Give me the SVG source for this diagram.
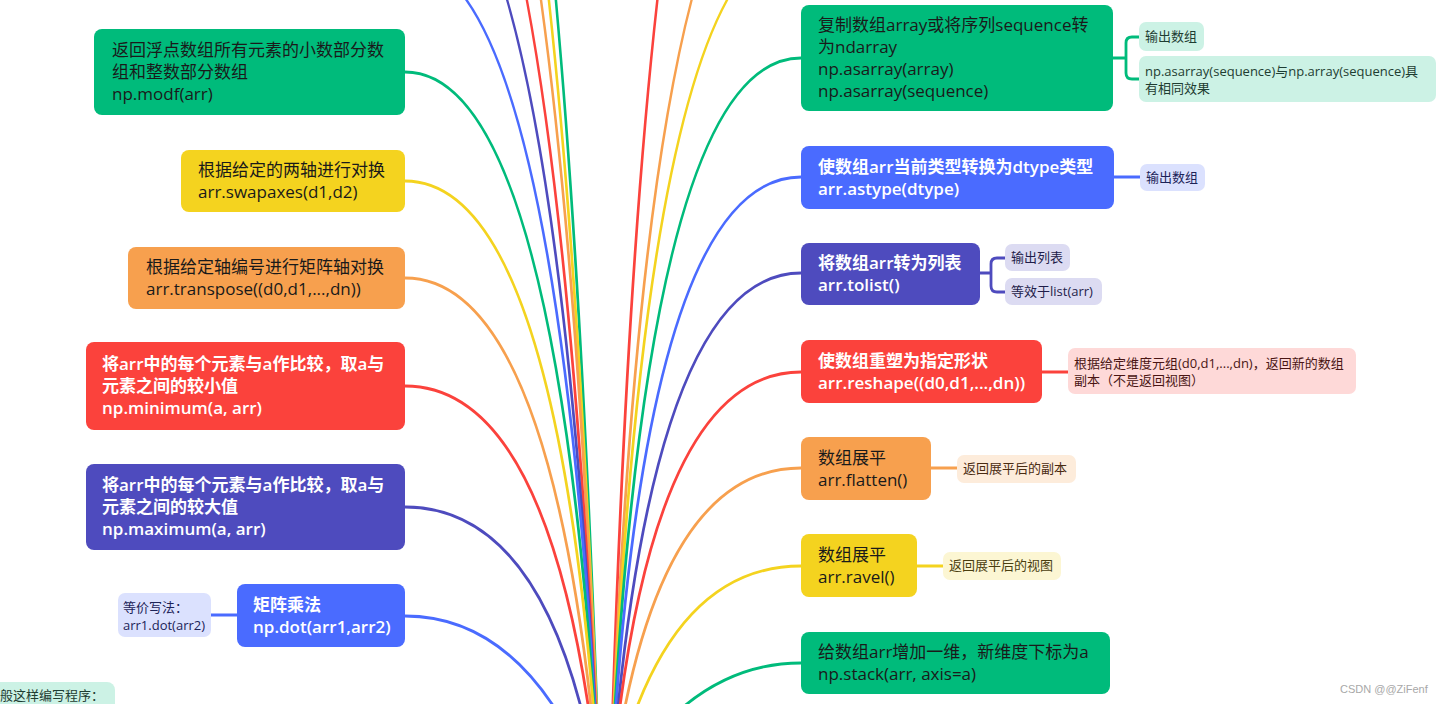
<svg xmlns="http://www.w3.org/2000/svg" width="1448" height="704" viewBox="0 0 1448 704">
<style>
.c{fill:none;stroke-width:2.8;stroke-linecap:round}
.sg{stroke:#00BB7B}.sy{stroke:#F4D31F}.so{stroke:#F7A04E}.sr{stroke:#FB423C}.si{stroke:#4E4BBE}.sb{stroke:#4A6BFF}
.t{font-family:"Open Sans","Noto Sans CJK SC",sans-serif;font-size:17px}
.d{fill:#1a1a1a}
.w{fill:#ffffff;font-weight:600}
.s{font-family:"Open Sans","Noto Sans CJK SC",sans-serif;font-size:13px}
</style>
<rect width="1448" height="704" fill="#ffffff"/>
<g id="connectors">
<path class="c sg" d="M405 -590 Q555 -590 600 800"/>
<path class="c sy" d="M405 -480 Q554 -480 600 800"/>
<path class="c so" d="M405 -370 Q556 -370 600 800"/>
<path class="c sr" d="M405 -260 Q553 -260 600 800"/>
<path class="c si" d="M405 -150 Q554 -150 600 800"/>
<path class="c sb" d="M405 -40 Q558 -40 600 800"/>
<path class="c sg" d="M405 72 Q560 72 600 800"/>
<path class="c sy" d="M405 181 Q562 181 600 800"/>
<path class="c so" d="M405 278 Q557 278 600 800"/>
<path class="c sr" d="M405 386 Q558 386 600 800"/>
<path class="c si" d="M405 507 Q554 507 600 800"/>
<path class="c sb" d="M405 616 Q531 616 600 800"/>
<path class="c sr" d="M801 -450 Q645 -450 610 800"/>
<path class="c so" d="M801 -170 Q645 -170 610 800"/>
<path class="c sy" d="M801 -60 Q645 -60 610 800"/>
<path class="c sg" d="M801 58 Q644 58 610 800"/>
<path class="c sb" d="M801 177 Q643 177 610 800"/>
<path class="c si" d="M801 273 Q648 273 610 800"/>
<path class="c sr" d="M801 372 Q646 372 610 800"/>
<path class="c so" d="M801 468 Q651 468 610 800"/>
<path class="c sy" d="M801 566 Q660 566 610 800"/>
<path class="c sg" d="M801 663 Q686 663 610 800"/>
<path class="c sb" d="M211 615 H237"/>
<path class="c sg" d="M1113 58 H1126 M1139 37 H1132 Q1126 37 1126 43 V73 Q1126 79 1132 79 H1139"/>
<path class="c sb" d="M1114 177 H1140"/>
<path class="c si" d="M980 273 H991 M1005 258 H997 Q991 258 991 264 V286 Q991 292 997 292 H1005"/>
<path class="c sr" d="M1042 372 H1068"/>
<path class="c so" d="M931 468 H957"/>
<path class="c sy" d="M917 566 H943"/>
</g>
<g id="node-modf">
<rect x="94" y="29" width="311" height="86" rx="8" fill="#00BB7B"/>
<text class="t d" x="112" y="56">返回浮点数组所有元素的小数部分数</text>
<text class="t d" x="112" y="78">组和整数部分数组</text>
<text class="t d" x="112" y="100">np.modf(arr)</text>
</g>
<g id="node-swapaxes">
<rect x="181" y="150" width="224" height="62" rx="8" fill="#F4D31F"/>
<text class="t d" x="198" y="176">根据给定的两轴进行对换</text>
<text class="t d" x="198" y="198">arr.swapaxes(d1,d2)</text>
</g>
<g id="node-transpose">
<rect x="128" y="247" width="277" height="62" rx="8" fill="#F7A04E"/>
<text class="t d" x="146" y="273">根据给定轴编号进行矩阵轴对换</text>
<text class="t d" x="146" y="295">arr.transpose((d0,d1,...,dn))</text>
</g>
<g id="node-minimum">
<rect x="86" y="342" width="319" height="88" rx="8" fill="#FB423C"/>
<text class="t w" x="102" y="370">将arr中的每个元素与a作比较，取a与</text>
<text class="t w" x="102" y="392">元素之间的较小值</text>
<text class="t w" x="102" y="414">np.minimum(a, arr)</text>
</g>
<g id="node-maximum">
<rect x="86" y="464" width="319" height="86" rx="8" fill="#4E4BBE"/>
<text class="t w" x="102" y="491">将arr中的每个元素与a作比较，取a与</text>
<text class="t w" x="102" y="513">元素之间的较大值</text>
<text class="t w" x="102" y="535">np.maximum(a, arr)</text>
</g>
<g id="node-dot">
<rect x="237" y="584" width="168" height="63" rx="8" fill="#4A6BFF"/>
<text class="t w" x="253" y="611">矩阵乘法</text>
<text class="t w" x="253" y="633">np.dot(arr1,arr2)</text>
</g>
<g id="node-dot-alt">
<rect x="118" y="593" width="93" height="44" rx="7" fill="#DBE1FE"/>
<text class="s" x="123" y="612" fill="#1c2358">等价写法：</text>
<text class="s" x="123" y="630" fill="#1c2358">arr1.dot(arr2)</text>
</g>
<g id="node-partial">
<rect x="-12" y="682" width="127" height="40" rx="8" fill="#CCF2E5"/>
<text class="s" x="0" y="700" fill="#1e3d32">般这样编写程序：</text>
</g>
<g id="node-asarray">
<rect x="801" y="5" width="312" height="106" rx="8" fill="#00BB7B"/>
<text class="t d" x="818" y="31">复制数组array或将序列sequence转</text>
<text class="t d" x="818" y="53">为ndarray</text>
<text class="t d" x="818" y="75">np.asarray(array)</text>
<text class="t d" x="818" y="97">np.asarray(sequence)</text>
</g>
<g id="node-asarray-out">
<rect x="1139" y="22" width="65" height="29" rx="7" fill="#CCF2E5"/>
<text class="s" x="1145" y="41" fill="#1e3d32">输出数组</text>
</g>
<g id="node-asarray-same">
<rect x="1139" y="56" width="297" height="46" rx="7" fill="#CCF2E5"/>
<text class="s" x="1145" y="76" fill="#1e3d32">np.asarray(sequence)与np.array(sequence)具</text>
<text class="s" x="1145" y="93" fill="#1e3d32">有相同效果</text>
</g>
<g id="node-astype">
<rect x="801" y="146" width="313" height="63" rx="8" fill="#4A6BFF"/>
<text class="t w" x="818" y="173">使数组arr当前类型转换为dtype类型</text>
<text class="t w" x="818" y="195">arr.astype(dtype)</text>
</g>
<g id="node-astype-out">
<rect x="1140" y="164" width="65" height="27" rx="7" fill="#DBE1FE"/>
<text class="s" x="1146" y="182" fill="#1c2358">输出数组</text>
</g>
<g id="node-tolist">
<rect x="801" y="243" width="179" height="62" rx="8" fill="#4E4BBE"/>
<text class="t w" x="818" y="269">将数组arr转为列表</text>
<text class="t w" x="818" y="291">arr.tolist()</text>
</g>
<g id="node-tolist-out">
<rect x="1005" y="244" width="65" height="27" rx="7" fill="#DCDBF2"/>
<text class="s" x="1011" y="262" fill="#1f1d4a">输出列表</text>
</g>
<g id="node-tolist-eq">
<rect x="1005" y="278" width="97" height="27" rx="7" fill="#DCDBF2"/>
<text class="s" x="1011" y="296" fill="#1f1d4a">等效于list(arr)</text>
</g>
<g id="node-reshape">
<rect x="801" y="340" width="241" height="63" rx="8" fill="#FB423C"/>
<text class="t w" x="818" y="367">使数组重塑为指定形状</text>
<text class="t w" x="818" y="389">arr.reshape((d0,d1,...,dn))</text>
</g>
<g id="node-reshape-note">
<rect x="1068" y="348" width="288" height="46" rx="7" fill="#FED9D8"/>
<text class="s" x="1074" y="368" fill="#4a1614">根据给定维度元组(d0,d1,...,dn)，返回新的数组</text>
<text class="s" x="1074" y="385" fill="#4a1614">副本（不是返回视图）</text>
</g>
<g id="node-flatten">
<rect x="801" y="437" width="130" height="63" rx="8" fill="#F7A04E"/>
<text class="t d" x="818" y="464">数组展平</text>
<text class="t d" x="818" y="486">arr.flatten()</text>
</g>
<g id="node-flatten-note">
<rect x="957" y="455" width="119" height="28" rx="7" fill="#FDECDB"/>
<text class="s" x="963" y="473" fill="#4a2b12">返回展平后的副本</text>
</g>
<g id="node-ravel">
<rect x="801" y="534" width="116" height="63" rx="8" fill="#F4D31F"/>
<text class="t d" x="818" y="561">数组展平</text>
<text class="t d" x="818" y="583">arr.ravel()</text>
</g>
<g id="node-ravel-note">
<rect x="943" y="552" width="118" height="28" rx="7" fill="#FCF6D3"/>
<text class="s" x="949" y="570" fill="#4a3e10">返回展平后的视图</text>
</g>
<g id="node-stack">
<rect x="801" y="632" width="309" height="62" rx="8" fill="#00BB7B"/>
<text class="t d" x="818" y="658">给数组arr增加一维，新维度下标为a</text>
<text class="t d" x="818" y="680">np.stack(arr, axis=a)</text>
</g>
<text x="1340" y="693" font-family="Liberation Sans, sans-serif" font-size="11" fill="#a8a8a8">CSDN @@ZiFenf</text>
</svg>
